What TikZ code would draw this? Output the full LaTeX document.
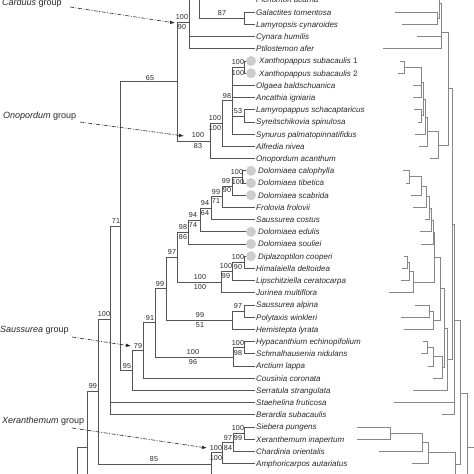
\documentclass[tikz,border=0pt]{standalone}
\usepackage{fontspec}
\setmainfont{Liberation Sans}
\usetikzlibrary{arrows.meta}
\definecolor{clade}{RGB}{85,85,85}
\definecolor{phylo}{RGB}{135,135,135}
\definecolor{txt}{RGB}{40,40,40}
\definecolor{dotc}{RGB}{205,205,205}
\tikzset{
 clad/.style={draw=clade, line width=0.75pt},
 phy/.style={draw=phylo, line width=0.9pt},
 leaf/.style={anchor=west, inner xsep=1pt, inner ysep=0pt, text height=5.7pt, text depth=0pt, font=\fontsize{8}{9}\selectfont\itshape, text=txt},
 bs/.style={inner sep=0pt, text height=5.2pt, text depth=0pt, font=\fontsize{7.2}{8}\selectfont, text=txt},
 grp/.style={anchor=base west, inner sep=0pt, font=\fontsize{9}{10}\selectfont, text=txt},
 grparrow/.style={draw=txt, line width=0.6pt, dash pattern=on 4pt off 1.5pt on 1pt off 1.5pt, -{Latex[length=5pt,width=3.6pt]}},
 kdot/.style={fill=dotc}
}
\begin{document}
\begin{tikzpicture}[x=1pt,y=-1pt]
\useasboundingbox (0,0) rectangle (474,474);
\fill[white] (0,0) rectangle (474,474);
\clip (0,0) rectangle (474,474);

% ---------- leaf names ----------
\node[leaf] (t0) at (255,0) {Picnomon acarna};
\node[leaf] (t1) at (255,12.2) {Galactites tomentosa};
\node[leaf] (t2) at (255,24.4) {Lamyropsis cynaroides};
\node[leaf] (t3) at (255,36.6) {Cynara humilis};
\node[leaf] (t4) at (255,48.8) {Ptilostemon afer};
\node[leaf] (t5) at (258,61) {Xanthopappus subacaulis \textup{1}};
\node[leaf] (t6) at (258,73.2) {Xanthopappus subacaulis \textup{2}};
\node[leaf] (t7) at (255,85.4) {Olgaea baldschuanica};
\node[leaf] (t8) at (255,97.6) {Ancathia igniaria};
\node[leaf] (t9) at (255,109.8) {Lamyropappus schacaptaricus};
\node[leaf] (t10) at (255,122) {Syreitschikovia spinulosa};
\node[leaf] (t11) at (255,134.2) {Synurus palmatopinnatifidus};
\node[leaf] (t12) at (255,146.4) {Alfredia nivea};
\node[leaf] (t13) at (255,158.6) {Onopordum acanthum};
\node[leaf] (t14) at (257,170.8) {Dolomiaea calophylla};
\node[leaf] (t15) at (257,183) {Dolomiaea tibetica};
\node[leaf] (t16) at (257,195.2) {Dolomiaea scabrida};
\node[leaf] (t17) at (255,207.4) {Frolovia frolovii};
\node[leaf] (t18) at (255,219.6) {Saussurea costus};
\node[leaf] (t19) at (257,231.8) {Dolomiaea edulis};
\node[leaf] (t20) at (257,244) {Dolomiaea souliei};
\node[leaf] (t21) at (257,256.2) {Diplazoptilon cooperi};
\node[leaf] (t22) at (255,268.4) {Himalaiella deltoidea};
\node[leaf] (t23) at (255,280.6) {Lipschitziella ceratocarpa};
\node[leaf] (t24) at (255,292.8) {Jurinea multiflora};
\node[leaf] (t25) at (255,305) {Saussurea alpina};
\node[leaf] (t26) at (255,317.2) {Polytaxis winkleri};
\node[leaf] (t27) at (255,329.4) {Hemistepta lyrata};
\node[leaf] (t28) at (255,341.6) {Hypacanthium echinopifolium};
\node[leaf] (t29) at (255,353.8) {Schmalhausenia nidulans};
\node[leaf] (t30) at (255,366) {Arctium lappa};
\node[leaf] (t31) at (255,378.2) {Cousinia coronata};
\node[leaf] (t32) at (255,390.4) {Serratula strangulata};
\node[leaf] (t33) at (255,402.6) {Staehelina fruticosa};
\node[leaf] (t34) at (255,414.8) {Berardia subacaulis};
\node[leaf] (t35) at (255,427) {Siebera pungens};
\node[leaf] (t36) at (255,439.2) {Xeranthemum inapertum};
\node[leaf] (t37) at (255,451.4) {Chardinia orientalis};
\node[leaf] (t38) at (255,463.6) {Amphoricarpos autariatus};

% circle centres
\coordinate (k5) at (251,61);
\coordinate (k6) at (251,73.2);
\coordinate (k14) at (251,170.8);
\coordinate (k15) at (251,183);
\coordinate (k16) at (251,195.2);
\coordinate (k19) at (251,231.8);
\coordinate (k20) at (251,244);
\coordinate (k21) at (251,256.2);

% ---------- cladogram nodes ----------
\coordinate (c199) at (199,-5);
\coordinate (cGL) at (244,18.3);
\coordinate (cA) at (189,22);
\coordinate (cB) at (177,81.5);
\coordinate (cX4) at (210,141);
\coordinate (cX3) at (222,123.5);
\coordinate (cX2) at (232,100.6);
\coordinate (cX1) at (244,67.1);
\coordinate (cLS) at (244,115.9);
\coordinate (cF) at (120,226);
\coordinate (cC) at (110,319);
\coordinate (cD) at (98,391);
\coordinate (cE) at (87,447);
\coordinate (cE0) at (77,447);
\coordinate (cG) at (132,370.4);
\coordinate (cH) at (143,350.5);
\coordinate (cI) at (155,322.7);
\coordinate (cJ) at (166,288.5);
\coordinate (cK) at (177,257);
\coordinate (cL6) at (188,232);
\coordinate (cL5) at (200,220);
\coordinate (cL4) at (211,208.2);
\coordinate (cL3) at (222,196.7);
\coordinate (cL2) at (232,186);
\coordinate (cL1) at (242,176.9);
\coordinate (cM) at (221,282);
\coordinate (cM2) at (232,271.5);
\coordinate (cM1) at (244,262.3);
\coordinate (cN) at (232,320.3);
\coordinate (cN1) at (244,311.1);
\coordinate (cO) at (233,356.9);
\coordinate (cO1) at (244,347.7);
\coordinate (cQ) at (211,464);
\coordinate (cQ3) at (222,452.8);
\coordinate (cQ2) at (233,442.2);
\coordinate (cQ1) at (244,433.1);

\draw[clad] (c199) -- ++(0,-25) (c199) |- (cGL);
\draw[clad] (cGL) |- (t1.west) (cGL) |- (t2.west);
\draw[clad] (cA) |- (c199) (cA) |- (t3.west) (cA) |- (t4.west);
\draw[clad] (cB) |- (cA) (cB) |- (cX4);
\draw[clad] (cX4) |- (cX3) (cX4) |- (t13.west);
\draw[clad] (cX3) |- (cX2) (cX3) |- (t12.west);
\draw[clad] (cX2) |- (cX1) (cX2) |- (t7.west) (cX2) |- (t8.west) (cX2) |- (cLS) (cX2) |- (t11.west);
\draw[clad] (cX1) |- (k5) (cX1) |- (k6);
\draw[clad] (cLS) |- (t9.west) (cLS) |- (t10.west);
\draw[clad] (cF) |- (cB) (cF) |- (cG);
\draw[clad] (cC) |- (cF) (cC) |- (t33.west) (cC) |- (t34.west);
\draw[clad] (cD) |- (cC) (cD) |- (cQ);
\draw[clad] (cE) |- (cD) (cE) -- ++(0,40) (cE) -- (cE0) -- ++(0,40);
\draw[clad] (cG) |- (cH) (cG) |- (t32.west);
\draw[clad] (cH) |- (cI) (cH) |- (t31.west);
\draw[clad] (cI) |- (cJ) (cI) |- (cO);
\draw[clad] (cJ) |- (cK) (cJ) |- (cN);
\draw[clad] (cK) |- (cL6) (cK) |- (cM);
\draw[clad] (cL6) |- (cL5) (cL6) |- (k20);
\draw[clad] (cL5) |- (cL4) (cL5) |- (k19);
\draw[clad] (cL4) |- (cL3) (cL4) |- (t18.west);
\draw[clad] (cL3) |- (cL2) (cL3) |- (t17.west);
\draw[clad] (cL2) |- (cL1) (cL2) |- (k16);
\draw[clad] (cL1) |- (k14) (cL1) |- (k15);
\draw[clad] (cM) |- (cM2) (cM) |- (t24.west);
\draw[clad] (cM2) |- (cM1) (cM2) |- (t23.west);
\draw[clad] (cM1) |- (k21) (cM1) |- (t22.west);
\draw[clad] (cN) |- (cN1) (cN) |- (t27.west);
\draw[clad] (cN1) |- (t25.west) (cN1) |- (t26.west);
\draw[clad] (cO) |- (cO1) (cO) |- (t30.west);
\draw[clad] (cO1) |- (t28.west) (cO1) |- (t29.west);
\draw[clad] (cQ) |- (cQ3) (cQ) -- ++(0,40);
\draw[clad] (cQ3) |- (cQ2) (cQ3) |- (t38.west);
\draw[clad] (cQ2) |- (cQ1) (cQ2) |- (t37.west);
\draw[clad] (cQ1) |- (t35.west) (cQ1) |- (t36.west);

% grey dots
\foreach \k in {k5,k6,k14,k15,k16,k19,k20,k21} \fill[kdot] (\k) circle (5);

% ---------- bootstrap values ----------
\node[bs] (b1) at (222,13) {87};
\node[bs] (b2) at (182,17) {100};
\node[bs] (b3) at (182,26.5) {90};
\node[bs] (b4) at (150,77.5) {65};
\node[bs] (b5) at (238,61.5) {100};
\node[bs] (b6) at (238,72.5) {100};
\node[bs] (b7) at (227,95.5) {98};
\node[bs] (b8) at (238,110.5) {53};
\node[bs] (b9) at (215,117.5) {100};
\node[bs] (b10) at (215,128) {100};
\node[bs] (b11) at (198,135) {100};
\node[bs] (b12) at (198,145.5) {83};
\node[bs] (b13) at (237,171.5) {100};
\node[bs] (b14) at (238,181.5) {100};
\node[bs] (b15) at (226,181) {99};
\node[bs] (b16) at (227,190) {90};
\node[bs] (b17) at (216,191.5) {99};
\node[bs] (b18) at (216,201) {71};
\node[bs] (b19) at (205,203) {94};
\node[bs] (b20) at (205,213) {64};
\node[bs] (b21) at (193,214.5) {94};
\node[bs] (b22) at (193,224.5) {74};
\node[bs] (b23) at (183,227) {98};
\node[bs] (b24) at (183,236.5) {86};
\node[bs] (b25) at (172,252) {97};
\node[bs] (b26) at (238,257) {100};
\node[bs] (b27) at (238,267) {90};
\node[bs] (b28) at (226,266) {100};
\node[bs] (b29) at (226,276) {99};
\node[bs] (b30) at (200,277) {100};
\node[bs] (b31) at (200,287) {100};
\node[bs] (b32) at (238,306) {97};
\node[bs] (b33) at (200,315) {99};
\node[bs] (b34) at (200,325) {51};
\node[bs] (b35) at (160,283.5) {99};
\node[bs] (b36) at (238,342.5) {100};
\node[bs] (b37) at (238,352.5) {98};
\node[bs] (b38) at (193,352) {100};
\node[bs] (b39) at (193,362) {96};
\node[bs] (b40) at (150,318) {91};
\node[bs] (b41) at (138,345.5) {79};
\node[bs] (b42) at (127,365.5) {95};
\node[bs] (b43) at (116,221) {71};
\node[bs] (b44) at (104,314) {100};
\node[bs] (b45) at (93,386) {99};
\node[bs] (b46) at (238,428) {100};
\node[bs] (b47) at (238,438) {99};
\node[bs] (b48) at (228,437.5) {97};
\node[bs] (b49) at (228,447.5) {84};
\node[bs] (b50) at (216,448) {100};
\node[bs] (b51) at (216,458) {100};
\node[bs] (b52) at (154,459) {85};

% ---------- group labels and arrows ----------
\node[grp] (gC) at (2,5.5) {\textit{Carduus} group};
\node[grp] (gO) at (3,118.3) {\textit{Onopordum} group};
\node[grp] (gS) at (0,332.5) {\textit{Saussurea} group};
\node[grp] (gX) at (2,423.3) {\textit{Xeranthemum} group};
\coordinate (aC0) at (70,7);   \coordinate (aC1) at (175,23);
\coordinate (aO0) at (80,122); \coordinate (aO1) at (184,136);
\coordinate (aS0) at (72,337); \coordinate (aS1) at (131,346);
\coordinate (aX0) at (72,428); \coordinate (aX1) at (207,448);
\draw[grparrow] (aC0) -- (aC1);
\draw[grparrow] (aO0) -- (aO1);
\draw[grparrow] (aS0) -- (aS1);
\draw[grparrow] (aX0) -- (aX1);

% ---------- phylogram ----------
\coordinate (q1) at (395,12.2);
\coordinate (q2) at (402,24.4);
\coordinate (q3) at (417,36.6);
\coordinate (q4) at (383,48.8);
\coordinate (q5) at (400,61);
\coordinate (q6) at (398,73.2);
\coordinate (q7) at (413,85.4);
\coordinate (q8) at (413,97.6);
\coordinate (q9) at (414,109.8);
\coordinate (q10) at (418,122);
\coordinate (q11) at (415,134.2);
\coordinate (q12) at (419,146.4);
\coordinate (q13) at (430,158.6);
\coordinate (q14) at (403,170.8);
\coordinate (q15) at (406,183);
\coordinate (q16) at (411,195.2);
\coordinate (q17) at (413,207.4);
\coordinate (q18) at (425,219.6);
\coordinate (q19) at (420,231.8);
\coordinate (q20) at (421,244);
\coordinate (q21) at (404,256.2);
\coordinate (q22) at (402,268.4);
\coordinate (q23) at (401,280.6);
\coordinate (q24) at (389,292.8);
\coordinate (q25) at (415,305);
\coordinate (q26) at (401,317.2);
\coordinate (q27) at (404,329.4);
\coordinate (q28) at (423,341.6);
\coordinate (q29) at (421,353.8);
\coordinate (q30) at (428,366);
\coordinate (q31) at (433,378.2);
\coordinate (q32) at (413,390.4);
\coordinate (q33) at (394,402.6);
\coordinate (q34) at (442,414.8);
\coordinate (q35) at (357,427);
\coordinate (q36) at (357,439.2);
\coordinate (q37) at (379,451.4);
\coordinate (q38) at (412,463.6);

\coordinate (pGL) at (437,18.3);
\coordinate (p2) at (439,3);
\coordinate (pA) at (441,32);
\coordinate (pB) at (448,88.5);
\coordinate (pO) at (438,145);
\coordinate (pX5) at (427,131.7);
\coordinate (pX4) at (425,117);
\coordinate (pX3) at (423,99);
\coordinate (pX2) at (421,82.3);
\coordinate (pX1) at (404,67.1);
\coordinate (pLS) at (421,115.9);
\coordinate (pF) at (452,224);
\coordinate (pC) at (454,320);
\coordinate (pD) at (460,393);
\coordinate (pE) at (467,447);
\coordinate (pG) at (447,359);
\coordinate (pI) at (444,328);
\coordinate (pH) at (442,367.6);
\coordinate (pOA) at (433,356.9);
\coordinate (pO1) at (427,347.7);
\coordinate (pJ) at (440,288.5);
\coordinate (pK) at (434,257);
\coordinate (pD6) at (433,232);
\coordinate (pD5) at (431,220);
\coordinate (pD4) at (429,208.2);
\coordinate (pD3) at (426,196.7);
\coordinate (pD2) at (421,186);
\coordinate (pD1) at (409,176.9);
\coordinate (pM) at (413,282);
\coordinate (pM2) at (409,271.5);
\coordinate (pM1) at (407,262.3);
\coordinate (pN) at (433,320.3);
\coordinate (pN1) at (429,311.1);
\coordinate (pQ4) at (455,464);
\coordinate (pQ3) at (428,452.8);
\coordinate (pQ2) at (422,442.2);
\coordinate (pQ1) at (390,433.1);

\draw[phy] (p2) -- ++(0,-25) (p2) |- (pGL) (pGL) |- (q1) (pGL) |- (q2);
\draw[phy] (pA) |- (p2) (pA) |- (q3) (pA) |- (q4);
\draw[phy] (pB) |- (pA) (pB) |- (pO);
\draw[phy] (pO) |- (pX5) (pO) |- (q13);
\draw[phy] (pX5) |- (pX4) (pX5) |- (q12);
\draw[phy] (pX4) |- (pX3) (pX4) |- (q11);
\draw[phy] (pX3) |- (pX2) (pX3) |- (pLS);
\draw[phy] (pX2) |- (pX1) (pX2) |- (q7) (pX2) |- (q8);
\draw[phy] (pX1) |- (q5) (pX1) |- (q6);
\draw[phy] (pLS) |- (q9) (pLS) |- (q10);
\draw[phy] (pF) |- (pB) (pF) |- (pG);
\draw[phy] (pC) |- (pF) (pC) |- (q33) (pC) |- (q34);
\draw[phy] (pD) |- (pC) (pD) |- (pQ4);
\draw[phy] (pE) |- (pD) (pE) -- ++(0,40) (pE) -- ++(20,0);
\draw[phy] (pG) |- (pI) (pG) |- (q32);
\draw[phy] (pI) |- (pJ) (pI) |- (pH);
\draw[phy] (pH) |- (pOA) (pH) |- (q31);
\draw[phy] (pOA) |- (pO1) (pOA) |- (q30);
\draw[phy] (pO1) |- (q28) (pO1) |- (q29);
\draw[phy] (pJ) |- (pK) (pJ) |- (pN);
\draw[phy] (pK) |- (pD6) (pK) |- (pM);
\draw[phy] (pD6) |- (pD5) (pD6) |- (q20);
\draw[phy] (pD5) |- (pD4) (pD5) |- (q19);
\draw[phy] (pD4) |- (pD3) (pD4) |- (q18);
\draw[phy] (pD3) |- (pD2) (pD3) |- (q17);
\draw[phy] (pD2) |- (pD1) (pD2) |- (q16);
\draw[phy] (pD1) |- (q14) (pD1) |- (q15);
\draw[phy] (pM) |- (pM2) (pM) |- (q24);
\draw[phy] (pM2) |- (pM1) (pM2) |- (q23);
\draw[phy] (pM1) |- (q21) (pM1) |- (q22);
\draw[phy] (pN) |- (pN1) (pN) |- (q27);
\draw[phy] (pN1) |- (q25) (pN1) |- (q26);
\draw[phy] (pQ4) |- (pQ3) (pQ4) -- ++(0,40);
\draw[phy] (pQ3) |- (pQ2) (pQ3) |- (q38);
\draw[phy] (pQ2) |- (pQ1) (pQ2) |- (q37);
\draw[phy] (pQ1) |- (q35) (pQ1) |- (q36);
\end{tikzpicture}
\end{document}
